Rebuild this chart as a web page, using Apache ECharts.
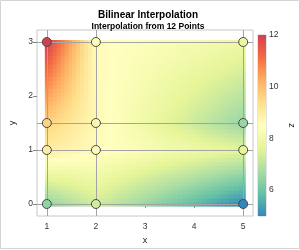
<!DOCTYPE html>
<html>
<head>
<meta charset="utf-8">
<script src="https://cdn.jsdelivr.net/npm/echarts@6/dist/echarts.min.js"></script>
<style>
  html, body { margin: 0; padding: 0; background: #fff; }
  #main { width: 300px; height: 250px; }
</style>
</head>
<body>
<div id="main"></div>
<script>
// known points
const xKnots = [1, 2, 5];
const yKnots = [0, 1, 1.5, 3];
// z at (xKnots[j], yKnots[i]), one row per y
const zAtY0 = [6.4, 7.3, 5.0];
const zAtY1 = [9.0, 8.6, 7.6];
const zAtY15 = [9.6, 8.7, 6.5];
const zAtY3 = [12.0, 8.6, 7.9];
const zRows = [zAtY0, zAtY1, zAtY15, zAtY3];

const xTicks = [1, 2, 3, 4, 5];
const yTicks = [0, 1, 2, 3];
const zTicks = [6, 8, 10, 12];
const zMin = 5, zMax = 12;

const palette = ["#3288bd", "#66c2a5", "#abdda4", "#e6f598", "#ffffbf",
  "#fee08b", "#fdae61", "#f46d43", "#d53e4f"];

// heat cells: bilinear interpolation of the 12 points (what the chart shows)
const xStep = 0.08, yStep = 0.075;

function seg(knots, v) {
  for (let k = 0; k < knots.length - 2; k++) {
    if (v <= knots[k + 1]) return k;
  }
  return knots.length - 2;
}
function bilinear(x, y) {
  const j = seg(xKnots, x), i = seg(yKnots, y);
  const tx = (x - xKnots[j]) / (xKnots[j + 1] - xKnots[j]);
  const ty = (y - yKnots[i]) / (yKnots[i + 1] - yKnots[i]);
  const z00 = zRows[i][j], z10 = zRows[i][j + 1];
  const z01 = zRows[i + 1][j], z11 = zRows[i + 1][j + 1];
  return (1 - tx) * (1 - ty) * z00 + tx * (1 - ty) * z10 +
    (1 - tx) * ty * z01 + tx * ty * z11;
}

const cells = [];
const nx = Math.round((xKnots[2] - xKnots[0]) / xStep);
const ny = Math.round((yKnots[3] - yKnots[0]) / yStep);
for (let a = 0; a <= nx; a++) {
  for (let b = 0; b <= ny; b++) {
    const x = xKnots[0] + a * xStep;
    const y = yKnots[0] + b * yStep;
    cells.push([x, y, bilinear(x, y)]);
  }
}

const points = [];
yKnots.forEach((y, i) => {
  xKnots.forEach((x, j) => points.push([x, y, zRows[i][j]]));
});

const font = "Liberation Sans, Arial, sans-serif";
const myChart = echarts.init(document.getElementById("main"));

myChart.setOption({
  animation: false,
  textStyle: { fontFamily: font },
  title: [
    {
      text: "Bilinear Interpolation",
      left: 143, top: 5, textAlign: "center",
      textStyle: { fontSize: 10, fontWeight: "bold", color: "#000", fontFamily: font },
    },
    {
      text: "Interpolation from 12 Points",
      left: 143, top: 17, textAlign: "center",
      textStyle: { fontSize: 8.5, fontWeight: "bold", color: "#000", fontFamily: font },
    },
  ],
  graphic: [
    {
      type: "rect",
      shape: { x: 0.5, y: 0.5, width: 299, height: 248 },
      style: { fill: "none", stroke: "#d4d4d4", lineWidth: 1 },
      silent: true,
    },
  ],
  grid: [
    {
      left: 33, top: 30, width: 220, height: 186,
      show: true, borderColor: "#c8c8c8", borderWidth: 1,
    },
    {
      left: 258, top: 35, width: 8, height: 181,
      show: true, borderColor: "#c8c8c8", borderWidth: 1,
    },
  ],
  xAxis: [
    {
      type: "value", gridIndex: 0, min: 0.8, max: 5.2,
      name: "x", nameLocation: "middle", nameGap: 19,
      nameTextStyle: { fontSize: 9, color: "#222" },
      axisLine: { show: false },
      splitLine: { show: false },
      axisTick: { show: true, length: 4, customValues: xTicks, lineStyle: { color: "#888" } },
      axisLabel: { customValues: xTicks, fontSize: 8.5, color: "#333", margin: 6 },
    },
    {
      type: "value", gridIndex: 1, min: 0, max: 1, show: false,
    },
  ],
  yAxis: [
    {
      type: "value", gridIndex: 0, min: -0.2222, max: 3.2222,
      name: "y", nameLocation: "middle", nameGap: 20, nameRotate: 90,
      nameTextStyle: { fontSize: 9, color: "#222" },
      axisLine: { show: false },
      splitLine: { show: false },
      axisTick: { show: true, length: 4, customValues: yTicks, lineStyle: { color: "#888" } },
      axisLabel: { customValues: yTicks, fontSize: 8.5, color: "#333", margin: 4 },
    },
    {
      type: "value", gridIndex: 1, min: zMin, max: zMax, position: "right",
      name: "z", nameLocation: "middle", nameGap: 21, nameRotate: -90,
      nameTextStyle: { fontSize: 9, color: "#222" },
      axisLine: { show: false },
      splitLine: { show: false },
      axisTick: { show: true, length: 3, customValues: zTicks, lineStyle: { color: "#888" } },
      axisLabel: { customValues: zTicks, fontSize: 8.5, color: "#333", margin: 3 },
    },
  ],
  visualMap: {
    type: "continuous", show: false, min: zMin, max: zMax,
    dimension: 2, seriesIndex: [0, 2],
    inRange: { color: palette },
  },
  series: [
    {
      type: "custom",
      xAxisIndex: 0, yAxisIndex: 0, z: 1,
      data: cells,
      renderItem: (params, api) => {
        const x = api.value(0), y = api.value(1);
        const p0 = api.coord([x - xStep / 2, y + yStep / 2]);
        const p1 = api.coord([x + xStep / 2, y - yStep / 2]);
        return {
          type: "rect",
          shape: { x: p0[0], y: p0[1], width: p1[0] - p0[0] + 0.6, height: p1[1] - p0[1] + 0.6 },
          style: { fill: api.visual("color") },
        };
      },
    },
    {
      type: "scatter",
      xAxisIndex: 0, yAxisIndex: 0, z: 2,
      data: [],
      silent: true,
      markLine: {
        z: 2,
        silent: true,
        symbol: ["none", "none"],
        label: { show: false },
        lineStyle: { color: "#a4a4a4", width: 1, type: "solid" },
        data: [
          ...xKnots.map((v) => ({ xAxis: v })),
          ...yKnots.map((v) => ({ yAxis: v })),
        ],
      },
    },
    {
      type: "scatter",
      xAxisIndex: 0, yAxisIndex: 0, z: 6,
      symbol: "circle", symbolSize: 9,
      itemStyle: { borderColor: "#4a4a4a", borderWidth: 1, opacity: 1 },
      data: points,
    },
    {
      type: "custom",
      xAxisIndex: 1, yAxisIndex: 1, z: 1,
      data: [[0, zMin]],
      renderItem: (params, api) => {
        const cs = params.coordSys;
        const stops = palette.map((c, k) => ({ offset: 1 - k / (palette.length - 1), color: c }));
        return {
          type: "rect",
          shape: { x: cs.x, y: cs.y, width: cs.width, height: cs.height },
          style: { fill: new echarts.graphic.LinearGradient(0, 0, 0, 1, stops) },
        };
      },
    },
  ],
});
</script>
</body>
</html>
